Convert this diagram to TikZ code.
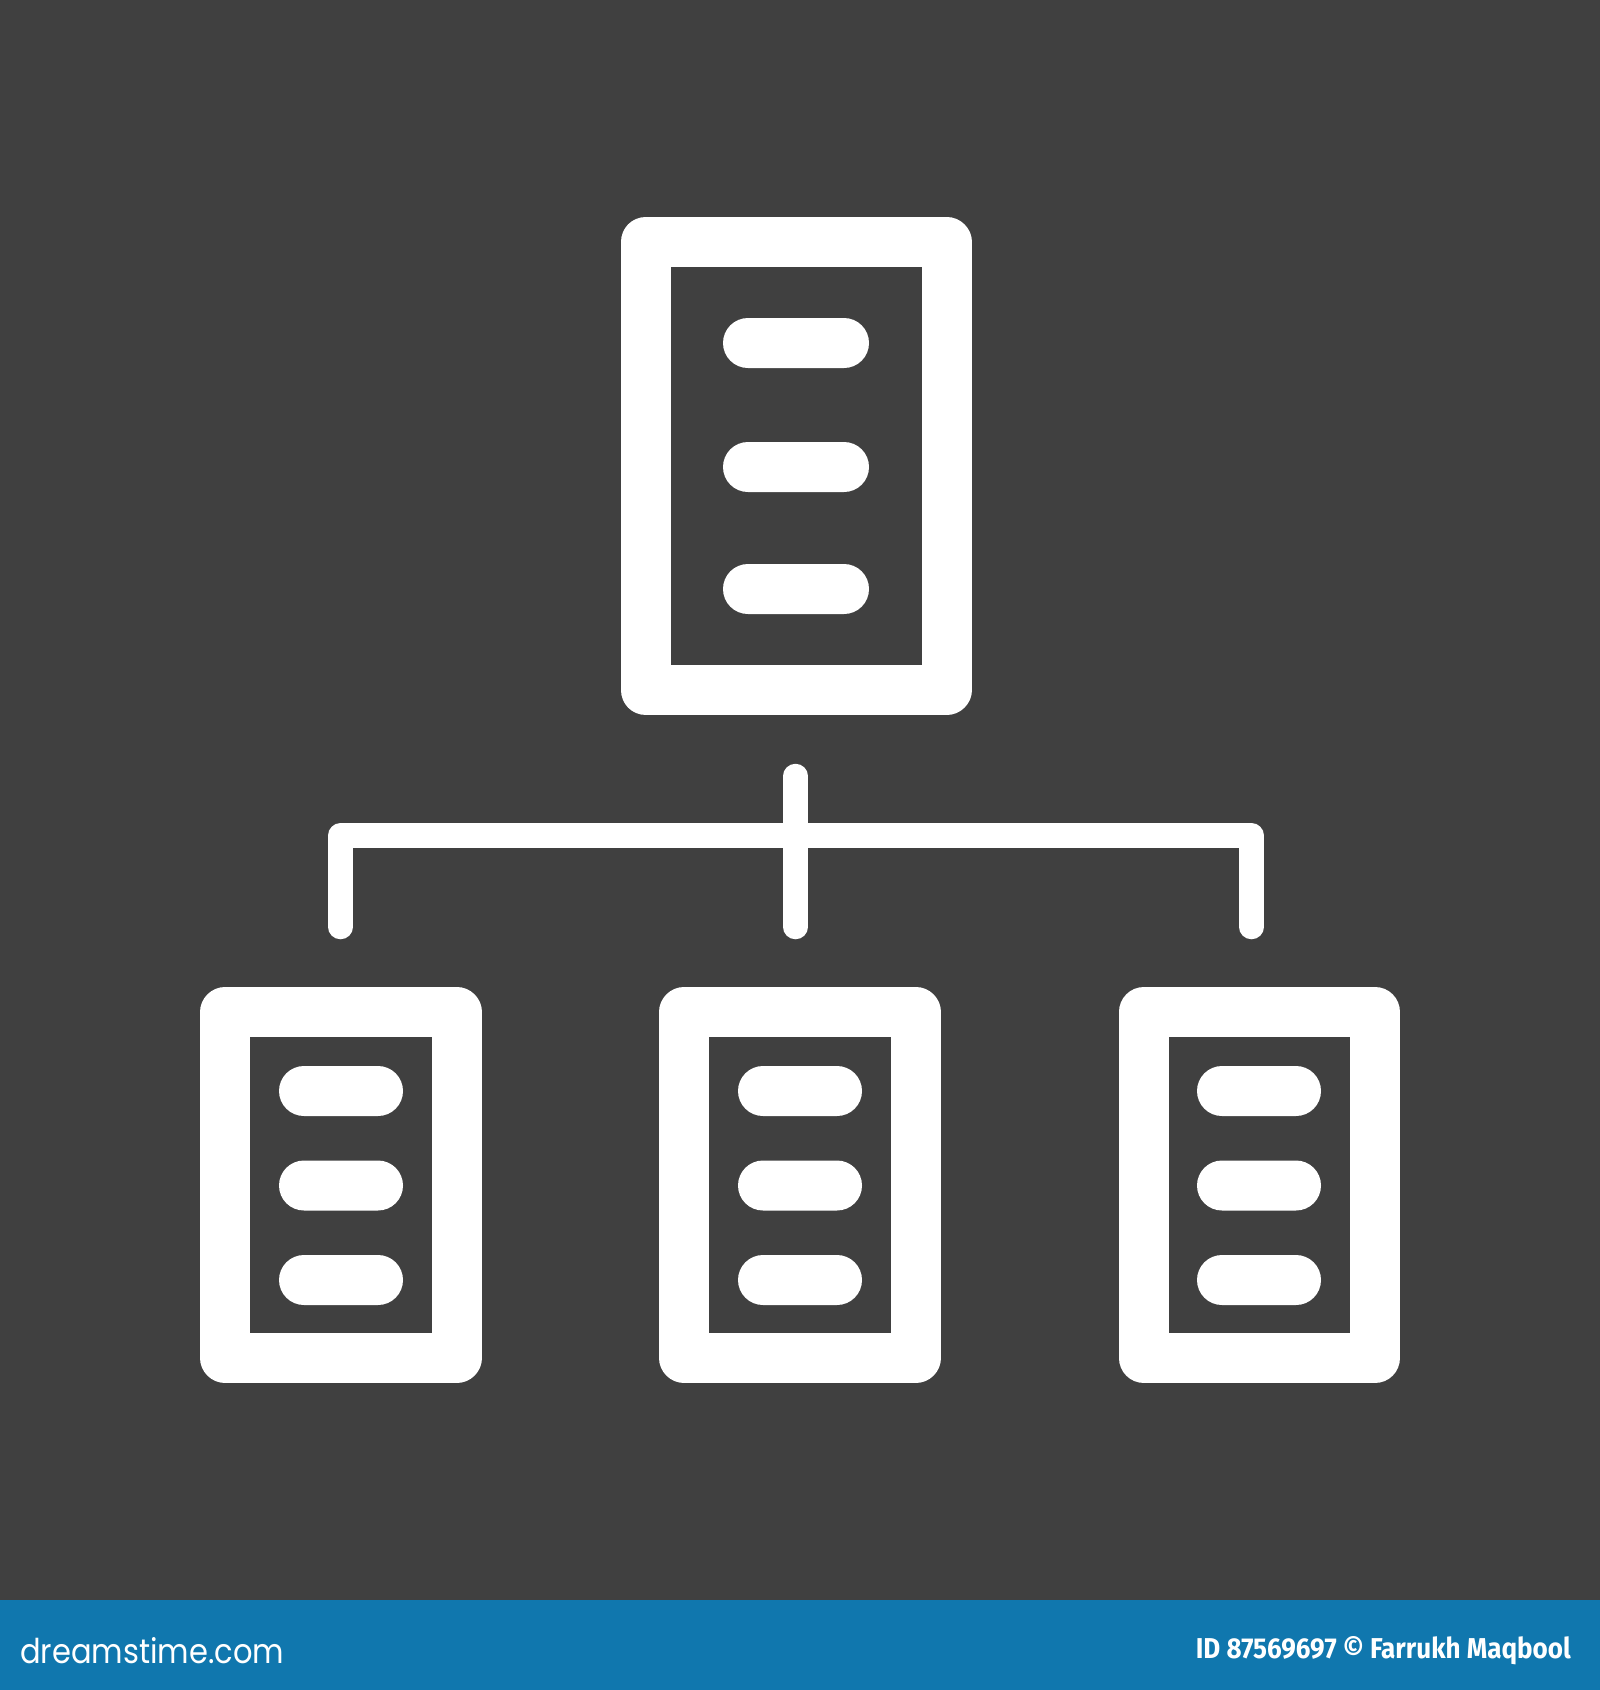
\documentclass[tikz,border=0pt]{standalone}
\usepackage{fontspec}
\usepackage{graphicx}
\newfontfamily\logofont{Poppins}
\newfontfamily\idfont{Fira Sans}

\definecolor{slate}{HTML}{404040}
\definecolor{stockblue}{HTML}{1077AE}

\tikzset{
  docbox/.style={draw=white, line width=50pt, line join=round, fill=slate, inner sep=0pt},
  rowbar/.style={fill=white, rounded corners=25pt, minimum height=50pt, inner sep=0pt},
  wire/.style={draw=white, line width=24.5pt, line cap=round, line join=round},
}

\begin{document}
\begin{tikzpicture}[x=1pt,y=-1pt]
% \draw [help lines, step=100] (0,0) grid (1600,1690) ;
\useasboundingbox (0,0) rectangle (1600,1690);
\fill[slate] (0,0) rectangle (1600,1600);
\fill[stockblue] (0,1600) rectangle (1600,1690);

% top sheet
\node[docbox, minimum width=301pt, minimum height=448pt] (top) at (796,466) {};
\node[rowbar, minimum width=146pt] (top1) at (796,343) {};
\node[rowbar, minimum width=146pt] (top2) at (796,467) {};
\node[rowbar, minimum width=146pt] (top3) at (796,589) {};

% lower sheets
\node[docbox, minimum width=231.5pt, minimum height=345.7pt] (left)  at (341,1185) {};
\node[docbox, minimum width=231.5pt, minimum height=345.7pt] (mid)   at (800,1185) {};
\node[docbox, minimum width=231.5pt, minimum height=345.7pt] (right) at (1259.5,1185) {};

\node[rowbar, minimum width=124pt] (left1) at (341,1091) {};
\node[rowbar, minimum width=124pt] (left2) at (341,1185.5) {};
\node[rowbar, minimum width=124pt] (left3) at (341,1280) {};
\node[rowbar, minimum width=124pt] (mid1) at (800,1091) {};
\node[rowbar, minimum width=124pt] (mid2) at (800,1185.5) {};
\node[rowbar, minimum width=124pt] (mid3) at (800,1280) {};
\node[rowbar, minimum width=124pt] (right1) at (1259,1091) {};
\node[rowbar, minimum width=124pt] (right2) at (1259,1185.5) {};
\node[rowbar, minimum width=124pt] (right3) at (1259,1280) {};

% tree lines
\coordinate (stem top)    at (795.5,776);
\coordinate (stem end)    at (795.5,927);
\coordinate (corner left) at (340.5,835.5);
\coordinate (corner right) at (1251.5,835.5);
\coordinate (drop left)   at (340.5,927);
\coordinate (drop right)  at (1251.5,927);

\draw[wire] (drop left) -- (corner left) -- (corner right) -- (drop right);
\draw[wire] (stem top) -- (stem end);

% footer
\node[anchor=base west, text=white, inner sep=0pt] (site) at (20,1663)
  {\resizebox{264pt}{26pt}{\logofont dreamstime.com}};
\node[anchor=base east, text=white, inner sep=0pt] (credit) at (1571,1658)
  {\resizebox{375pt}{22pt}{\idfont\bfseries ID 87569697 © Farrukh Maqbool}};
\end{tikzpicture}
\end{document}
